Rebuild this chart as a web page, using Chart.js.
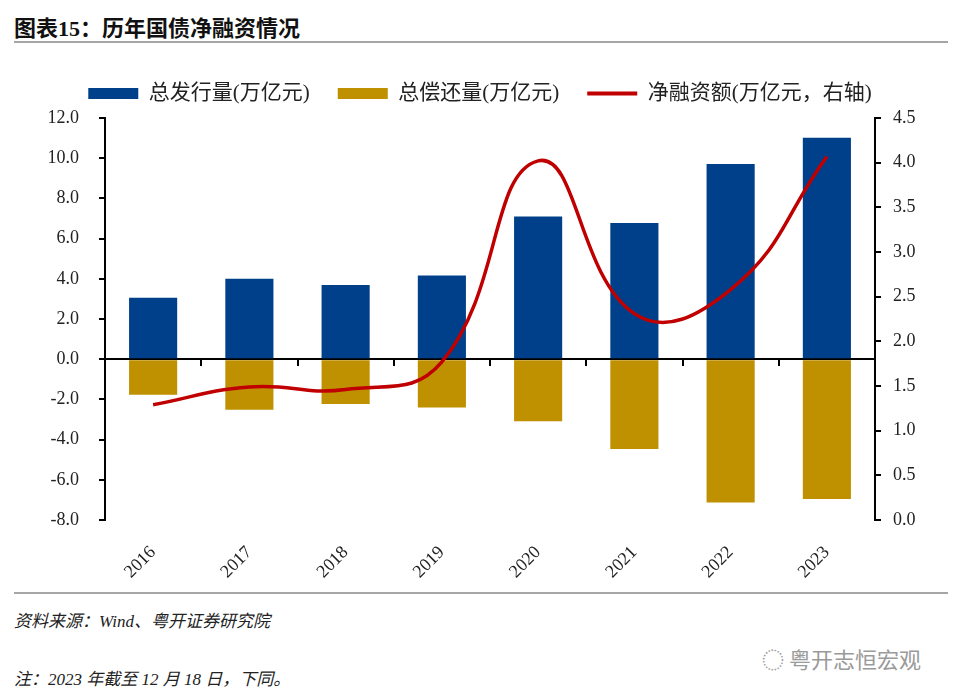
<!DOCTYPE html>
<html>
<head>
<meta charset="utf-8">
<script src="https://cdn.jsdelivr.net/npm/chart.js@4"></script>
<style>
    body { margin: 0; background: #fff; width: 960px; height: 700px; position: relative; overflow: hidden; font-family: 'Liberation Serif', 'Noto Sans CJK SC', serif; }
    #title { position: absolute; left: 14px; top: 10px; font-size: 22px; font-weight: bold; color: #111; }
    .rule { position: absolute; left: 14px; width: 934px; height: 2px; background: #a6a6a6; }
    #chartBox { position: absolute; left: 0; top: 44px; width: 960px; height: 546px; }
    .note { position: absolute; left: 14px; font-size: 17px; font-style: italic; color: #222; }
    #mark { position: absolute; left: 762px; top: 642px; font-size: 22px; color: #9a9a9a; font-family: 'Noto Sans CJK SC', sans-serif; }
</style>
</head>
<body>
<div id="title">图表15：历年国债净融资情况</div>
<div class="rule" style="top:41px"></div>
<div id="chartBox"><canvas id="debtChart"></canvas></div>
<div class="rule" style="top:592px"></div>
<div class="note" style="top:607px">资料来源：Wind、粤开证券研究院</div>
<div class="note" style="top:665px">注：2023 年截至 12 月 18 日，下同。</div>
<div id="mark">◌ 粤开志恒宏观</div>

<script>
// 年份
const years = ['2016', '2017', '2018', '2019', '2020', '2021', '2022', '2023'];
// 总发行量(万亿元)
const issuance = [3.06, 4.00, 3.69, 4.17, 7.10, 6.78, 9.71, 11.02];
// 总偿还量(万亿元)，画在零线下方
const repayment = [-1.77, -2.51, -2.23, -2.40, -3.09, -4.47, -7.13, -6.95];
// 净融资额(万亿元，右轴)
const netFinancing = [1.29, 1.49, 1.46, 1.77, 4.02, 2.31, 2.58, 4.07];

const fontFamily = "'Liberation Serif', 'Noto Sans CJK SC', serif";

// 图例下方多留一点空白
const legendGap = {
    id: 'legendGap',
    beforeInit(chart) {
        const fit = chart.legend.fit;
        chart.legend.fit = function () {
            fit.call(this);
            this.height += 4;
        };
    }
};

const ctx = document.getElementById('debtChart').getContext('2d');

new Chart(ctx, {
    type: 'bar',
    data: {
        labels: years,
        datasets: [
            {
                label: '总发行量(万亿元)',
                data: issuance,
                backgroundColor: '#00408A',
                yAxisID: 'y',
                stack: 'debt',
                barPercentage: 0.5,
                categoryPercentage: 1,
                order: 2
            },
            {
                label: '总偿还量(万亿元)',
                data: repayment,
                backgroundColor: '#BF9000',
                yAxisID: 'y',
                stack: 'debt',
                barPercentage: 0.5,
                categoryPercentage: 1,
                order: 2
            },
            {
                type: 'line',
                label: '净融资额(万亿元，右轴)',
                data: netFinancing,
                borderColor: '#C00000',
                backgroundColor: '#C00000',
                borderWidth: 3.5,
                pointRadius: 0,
                tension: 0.45,
                yAxisID: 'y2',
                order: 1
            }
        ]
    },
    plugins: [legendGap],
    options: {
        responsive: true,
        maintainAspectRatio: false,
        animation: false,
        layout: { padding: { left: 10, right: 10, top: 11, bottom: 0 } },
        plugins: {
            tooltip: { enabled: false },
            legend: {
                position: 'top',
                labels: {
                    font: { family: fontFamily, size: 21 },
                    color: '#222',
                    boxWidth: 50,
                    boxHeight: 11,
                    padding: 28,
                    usePointStyle: true,
                    pointStyleWidth: 50,
                    sort: (a, b) => a.datasetIndex - b.datasetIndex,
                    generateLabels: function (chart) {
                        const items = Chart.defaults.plugins.legend.labels.generateLabels(chart);
                        return items.map(item => {
                            const ds = chart.data.datasets[item.datasetIndex];
                            item.pointStyle = ds.type === 'line' ? 'line' : 'rect';
                            item.lineWidth = ds.type === 'line' ? 4 : 0;
                            return item;
                        });
                    }
                }
            }
        },
        scales: {
            x: {
                stacked: true,
                grid: { display: false },
                border: { display: false },
                ticks: {
                    font: { family: fontFamily, size: 18 },
                    color: '#222',
                    minRotation: 45,
                    maxRotation: 45,
                    padding: 14
                },
                afterFit: function (scale) { scale.height = 70; }
            },
            // 零线及其刻度
            xZero: {
                type: 'category',
                position: { y: 0 },
                z: 1,
                grid: { drawOnChartArea: false, offset: true, tickLength: 6, color: '#000', lineWidth: 2 },
                border: { color: '#000', width: 2 },
                ticks: { display: false }
            },
            y: {
                position: 'left',
                min: -8,
                max: 12,
                stacked: true,
                ticks: {
                    stepSize: 2,
                    font: { family: fontFamily, size: 18 },
                    color: '#222',
                    padding: 20,
                    callback: function (value) { return value.toFixed(1); }
                },
                grid: { drawOnChartArea: false, tickLength: 6, color: '#000', lineWidth: 2 },
                border: { color: '#000', width: 2 },
                afterFit: function (scale) { scale.width = 95; }
            },
            y2: {
                position: 'right',
                min: 0,
                max: 4.5,
                ticks: {
                    stepSize: 0.5,
                    font: { family: fontFamily, size: 18 },
                    color: '#222',
                    padding: 12,
                    callback: function (value) { return value.toFixed(1); }
                },
                grid: { drawOnChartArea: false, tickLength: 6, color: '#000', lineWidth: 2 },
                border: { color: '#000', width: 2 },
                afterFit: function (scale) { scale.width = 75; }
            }
        }
    }
});
</script>
</body>
</html>
